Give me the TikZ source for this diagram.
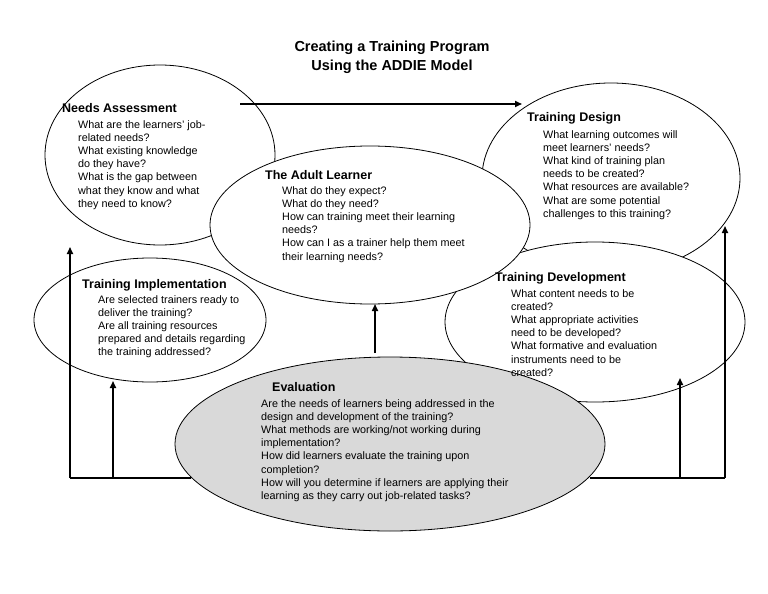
\documentclass[tikz,border=0pt]{standalone}
\usepackage{fontspec}
\setmainfont{Liberation Sans}
\usetikzlibrary{arrows.meta}
\begin{document}
\begin{tikzpicture}[x=1pt,y=-1pt,
  ell/.style={draw,fill=white,line width=0.8pt},
  hd/.style={font=\fontsize{12.5}{14}\selectfont\bfseries,anchor=west,inner sep=0},
  bd/.style={font=\fontsize{10.8}{13.2}\selectfont,anchor=north west,align=left,inner sep=0},
  arr/.style={line width=1.6pt,-{Triangle[length=7pt,width=6pt]}},
  ln/.style={line width=1.6pt}]
\useasboundingbox (0,0) rectangle (768,594);
\node[font=\fontsize{14.5}{19}\selectfont\bfseries,align=center] (title) at (392,57) {Creating a Training Program\\Using the ADDIE Model};
% ellipses
\draw[ell] (160,155) ellipse [x radius=115,y radius=90];
\draw[ell] (611,178) ellipse [x radius=129,y radius=95];
\draw[ell] (150,320) ellipse [x radius=116,y radius=62];
\draw[ell] (595,322) ellipse [x radius=150,y radius=80];
\draw[ell] (370,225) ellipse [x radius=160,y radius=79];
\draw[ell,fill=black!15] (390,444) ellipse [x radius=215,y radius=87];
\coordinate (na) at (240,104); \coordinate (td) at (522,104);
\draw[arr] (na) -- (td);
% texts
\node[hd] (h1) at (62,108) {Needs Assessment};
\node[bd] (b1) at (78,120) {What are the learners’ job-\\related needs?\\What existing knowledge\\do they have?\\What is the gap between\\what they know and what\\they need to know?};
\node[hd] (h2) at (527,118) {Training Design};
\node[bd] (b2) at (543,130) {What learning outcomes will\\meet learners’ needs?\\What kind of training plan\\needs to be created?\\What resources are available?\\What are some potential\\challenges to this training?};
\node[hd] (h3) at (265,175) {The Adult Learner};
\node[bd] (b3) at (282,186) {What do they expect?\\What do they need?\\How can training meet their learning\\needs?\\How can I as a trainer help them meet\\their learning needs?};
\node[hd] (h4) at (82,285) {Training Implementation};
\node[bd] (b4) at (98,295) {Are selected trainers ready to\\deliver the training?\\Are all training resources\\prepared and details regarding\\the training addressed?};
\node[hd] (h5) at (495,278) {Training Development};
\node[bd] (b5) at (511,289) {What content needs to be\\created?\\What appropriate activities\\need to be developed?\\What formative and evaluation\\instruments need to be\\created?};
\node[hd] (h6) at (272,387) {Evaluation};
\node[bd] (b6) at (261,399) {Are the needs of learners being addressed in the\\design and development of the training?\\What methods are working/not working during\\implementation?\\How did learners evaluate the training upon\\completion?\\How will you determine if learners are applying their\\learning as they carry out job-related tasks?};
% connectors
\coordinate (el) at (191,478); \coordinate (er) at (590,478);
\coordinate (c1) at (70,478); \coordinate (c2) at (113,478);
\coordinate (c3) at (725,478); \coordinate (c4) at (680,478);
\draw[ln] (el) -- (c1);
\draw[arr] (c1) -- (70,247);
\draw[arr] (c2) -- (113,381);
\draw[ln] (er) -- (c3);
\draw[arr] (c3) -- (725,226);
\draw[arr] (c4) -- (680,378);
\draw[arr] (375,353) -- (375,304);
\end{tikzpicture}
\end{document}
